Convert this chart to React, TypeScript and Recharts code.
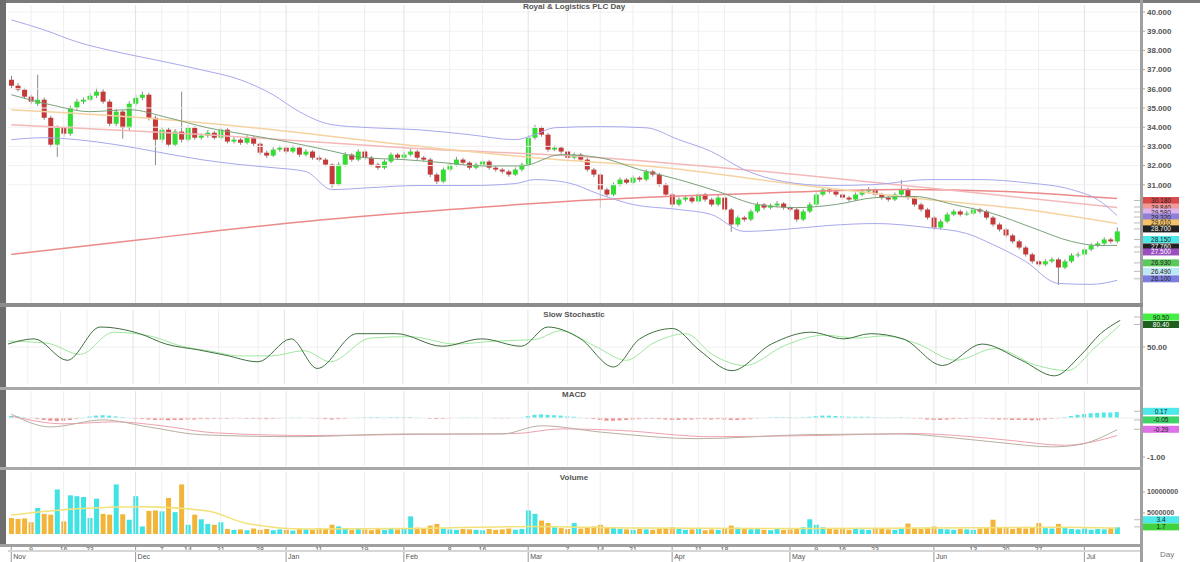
import React from 'react';
import { Bar, Cell, ComposedChart, Line, ReferenceLine, XAxis, YAxis } from 'recharts';

const FONT = '"Liberation Sans", "DejaVu Sans", sans-serif';
const PAD_SLOTS = 3;

// daily candles: [open, high, low, close]
const candles = [
  [36.47, 36.68, 36.02, 36.16], [36.16, 36.3, 35.85, 35.95], [35.95, 36.05, 35.48, 35.59], [35.59, 35.7, 35.2, 35.33], [35.22, 36.73, 35.1, 35.43],
  [35.43, 35.55, 34.38, 34.49], [34.49, 34.6, 32.95, 33.09], [33.09, 34.1, 32.45, 33.97], [33.97, 34.05, 33.5, 33.66], [33.66, 35.12, 33.55, 35.01],
  [35.01, 35.48, 34.9, 35.33], [35.33, 35.55, 35.2, 35.43], [35.43, 35.78, 35.35, 35.64], [35.64, 36.05, 35.52, 35.85], [35.85, 35.98, 35.22, 35.33],
  [35.33, 35.45, 34.05, 34.18], [34.18, 34.95, 34.05, 34.81], [34.81, 34.9, 33.4, 33.97], [33.97, 35.35, 33.85, 35.22], [35.22, 35.68, 35.1, 35.53],
  [35.53, 35.85, 35.4, 35.69], [35.69, 35.8, 34.35, 34.49], [34.49, 34.6, 32.0, 33.35], [33.35, 34.0, 33.2, 33.87], [33.87, 33.98, 32.95, 33.09],
  [33.09, 33.9, 33.0, 33.77], [33.77, 35.85, 33.2, 33.35], [33.35, 34.08, 33.25, 33.97], [33.97, 34.05, 33.35, 33.45], [33.45, 33.68, 33.35, 33.56],
  [33.56, 33.85, 33.45, 33.71], [33.71, 33.8, 33.35, 33.45], [33.45, 33.98, 33.38, 33.87], [33.87, 33.95, 33.15, 33.25], [33.25, 33.48, 33.15, 33.35],
  [33.35, 33.45, 33.08, 33.19], [33.19, 33.58, 33.1, 33.45], [33.45, 33.55, 33.02, 33.14], [33.14, 33.22, 32.55, 32.67], [32.67, 32.78, 32.4, 32.52],
  [32.52, 32.95, 32.45, 32.83], [32.83, 33.05, 32.72, 32.93], [32.93, 33.02, 32.62, 32.73], [32.73, 33.05, 32.65, 32.93], [32.93, 33.0, 32.45, 32.57],
  [32.57, 32.85, 32.48, 32.73], [32.73, 32.8, 32.3, 32.41], [32.41, 32.52, 32.2, 32.31], [32.31, 32.4, 31.95, 32.05], [32.05, 32.12, 30.85, 31.01],
  [31.01, 32.18, 30.95, 32.05], [32.05, 32.7, 31.95, 32.57], [32.57, 32.65, 32.2, 32.31], [32.31, 32.85, 32.22, 32.73], [32.73, 32.82, 32.3, 32.41],
  [32.41, 32.5, 31.95, 32.05], [32.05, 32.15, 31.78, 31.89], [31.89, 32.32, 31.8, 32.21], [32.21, 32.68, 32.12, 32.57], [32.57, 32.66, 32.3, 32.41],
  [32.41, 32.7, 32.33, 32.57], [32.57, 32.88, 32.48, 32.73], [32.73, 32.82, 32.3, 32.41], [32.41, 32.5, 32.2, 32.31], [32.31, 32.4, 31.4, 31.53],
  [31.53, 31.62, 31.02, 31.17], [31.17, 31.9, 31.08, 31.79], [31.79, 32.15, 31.7, 32.05], [32.05, 32.45, 31.95, 32.31], [32.31, 32.4, 32.05, 32.15],
  [32.15, 32.22, 31.78, 31.89], [31.89, 32.15, 31.8, 32.05], [32.05, 32.32, 31.95, 32.21], [32.21, 32.3, 31.78, 31.89], [31.89, 31.98, 31.68, 31.79],
  [31.79, 31.88, 31.58, 31.69], [31.69, 31.78, 31.42, 31.53], [31.53, 31.9, 31.45, 31.79], [31.79, 32.15, 31.7, 32.05], [32.05, 33.6, 31.95, 33.45],
  [33.45, 34.12, 33.35, 33.97], [33.97, 34.05, 33.5, 33.61], [33.61, 33.7, 32.72, 32.83], [32.83, 33.05, 32.75, 32.93], [32.93, 33.02, 32.62, 32.73],
  [32.73, 32.82, 32.3, 32.41], [32.41, 32.68, 32.32, 32.57], [32.57, 32.65, 32.2, 32.31], [32.31, 32.4, 31.68, 31.79], [31.79, 31.88, 31.4, 31.53],
  [31.53, 31.6, 29.8, 30.75], [30.75, 30.85, 30.38, 30.49], [30.49, 31.12, 30.4, 31.01], [31.01, 31.38, 30.92, 31.27], [31.27, 31.35, 31.0, 31.11],
  [31.11, 31.48, 31.02, 31.37], [31.37, 31.45, 31.15, 31.27], [31.27, 31.8, 31.18, 31.69], [31.69, 31.78, 31.42, 31.53], [31.53, 31.62, 30.9, 31.01],
  [31.01, 31.1, 30.38, 30.49], [30.49, 30.58, 29.85, 29.97], [29.97, 30.35, 29.88, 30.23], [30.23, 30.45, 30.12, 30.33], [30.33, 30.42, 30.02, 30.13],
  [30.13, 30.6, 30.05, 30.49], [30.49, 30.58, 30.12, 30.23], [30.23, 30.32, 29.86, 29.97], [29.97, 30.45, 29.88, 30.33], [30.33, 30.42, 29.6, 29.71],
  [29.71, 29.8, 28.55, 28.93], [28.93, 29.4, 28.82, 29.29], [29.29, 29.38, 29.08, 29.19], [29.19, 29.72, 29.1, 29.61], [29.61, 30.1, 29.52, 29.97],
  [29.97, 30.05, 29.7, 29.81], [29.81, 30.02, 29.72, 29.92], [29.92, 30.15, 29.82, 30.02], [30.02, 30.1, 29.7, 29.81], [29.81, 29.9, 29.6, 29.71],
  [29.71, 29.8, 29.08, 29.19], [29.19, 29.72, 29.1, 29.61], [29.61, 30.08, 29.52, 29.97], [29.97, 30.6, 29.88, 30.49], [30.49, 30.88, 30.4, 30.75],
  [30.75, 30.85, 30.55, 30.65], [30.65, 30.72, 30.38, 30.49], [30.49, 30.58, 30.22, 30.33], [30.33, 30.42, 30.12, 30.23], [30.23, 30.6, 30.15, 30.49],
  [30.49, 30.78, 30.4, 30.65], [30.65, 30.88, 30.55, 30.75], [30.75, 30.82, 30.38, 30.49], [30.49, 30.58, 30.22, 30.33], [30.33, 30.42, 30.12, 30.23],
  [30.23, 30.6, 30.15, 30.49], [30.49, 31.25, 30.4, 30.75], [30.75, 30.85, 30.22, 30.33], [30.33, 30.42, 29.86, 29.97], [29.97, 30.06, 29.6, 29.71],
  [29.71, 29.8, 29.18, 29.29], [29.29, 29.38, 28.65, 28.77], [28.77, 29.2, 28.68, 29.09], [29.09, 29.56, 29.0, 29.45], [29.45, 29.72, 29.36, 29.61],
  [29.61, 29.7, 29.35, 29.45], [29.45, 29.62, 29.38, 29.5], [29.5, 29.82, 29.42, 29.71], [29.71, 29.8, 29.5, 29.61], [29.61, 29.7, 29.18, 29.29],
  [29.29, 29.38, 28.82, 28.93], [28.93, 29.02, 28.56, 28.67], [28.67, 28.76, 28.25, 28.36], [28.36, 28.45, 27.94, 28.05], [28.05, 28.14, 27.62, 27.73],
  [27.73, 27.82, 27.26, 27.37], [27.37, 27.46, 26.9, 27.01], [27.01, 27.1, 26.74, 26.85], [26.85, 27.12, 26.76, 27.01], [27.01, 27.22, 26.92, 27.11],
  [27.11, 27.2, 25.78, 26.69], [26.69, 27.12, 26.6, 27.01], [27.01, 27.43, 26.92, 27.32], [27.32, 27.48, 27.22, 27.37], [27.37, 27.74, 27.28, 27.63],
  [27.63, 27.95, 27.54, 27.84], [27.84, 28.05, 27.75, 27.94], [27.94, 28.26, 27.85, 28.15], [28.15, 28.24, 27.94, 28.05], [28.05, 28.78, 27.96, 28.57],
];

// volume in millions of shares
const volumes = [
  3.8, 3.6, 3.7, 2.8, 6.2, 4.8, 4.6, 10.6, 3.0, 9.2,
  9.0, 8.8, 3.8, 8.4, 4.8, 4.6, 11.8, 4.7, 3.4, 9.0,
  1.8, 5.5, 5.6, 5.4, 8.6, 5.2, 11.8, 2.2, 4.6, 3.5,
  2.4, 2.2, 2.8, 1.2, 1.0, 1.1, 0.9, 1.3, 1.0, 1.2,
  0.9, 1.1, 1.0, 0.8, 1.2, 1.1, 1.0, 1.4, 1.2, 2.2,
  1.8, 1.2, 1.0, 1.3, 1.1, 0.9, 1.2, 1.0, 1.4, 1.1,
  1.2, 4.2, 1.5, 1.2, 2.0, 2.4, 1.3, 1.1, 1.0, 1.2,
  1.1, 1.0, 0.9, 1.2, 1.0, 1.1, 1.3, 1.0, 1.2, 5.6,
  4.8, 3.2, 2.6, 1.6, 1.4, 1.2, 2.6, 1.3, 1.5, 1.8,
  2.2, 1.6, 1.4, 1.2, 1.1, 1.0, 1.2, 1.1, 1.0, 1.3,
  1.4, 1.6, 1.2, 1.0, 1.1, 1.2, 0.9, 1.1, 1.0, 1.3,
  2.0, 1.5, 1.2, 1.1, 1.3, 1.0, 0.9, 1.2, 1.0, 1.1,
  1.4, 1.6, 3.5, 2.2, 1.6, 1.2, 1.1, 1.3, 1.0, 1.2,
  1.1, 1.0, 1.2, 1.4, 1.1, 1.0, 1.3, 2.5, 1.4, 1.2,
  1.5, 1.8, 1.2, 1.1, 1.0, 1.2, 1.1, 1.0, 1.3, 1.4,
  3.4, 1.6, 1.4, 1.2, 1.5, 1.3, 1.6, 2.6, 1.4, 1.3,
  2.4, 1.4, 1.2, 1.1, 1.3, 1.0, 1.2, 1.1, 1.4, 1.6,
];

const macdHist = [
  0.05, 0.04, 0.02, -0.01, -0.03, -0.05, -0.07, -0.08, -0.07, -0.05,
  -0.02, 0.01, 0.04, 0.06, 0.07, 0.06, 0.04, 0.02, 0.0, -0.02,
  -0.03, -0.04, -0.05, -0.05, -0.06, -0.05, -0.05, -0.04, -0.04, -0.03,
  -0.03, -0.02, -0.02, -0.02, -0.01, -0.01, -0.02, -0.02, -0.03, -0.03,
  -0.02, -0.01, 0.0, 0.01, 0.01, 0.0, -0.01, -0.02, -0.03, -0.04,
  -0.03, -0.02, 0.0, 0.01, 0.02, 0.02, 0.02, 0.01, 0.02, 0.02,
  0.02, 0.02, 0.01, 0.0, -0.02, -0.03, -0.02, -0.01, 0.0, 0.01,
  0.01, 0.01, 0.0, 0.0, -0.01, -0.01, -0.01, 0.0, 0.01, 0.05,
  0.08, 0.09, 0.08, 0.07, 0.06, 0.04, 0.03, 0.01, -0.01, -0.03,
  -0.05, -0.07, -0.07, -0.06, -0.05, -0.04, -0.03, -0.02, -0.02, -0.03,
  -0.04, -0.05, -0.05, -0.04, -0.04, -0.03, -0.03, -0.04, -0.03, -0.04,
  -0.05, -0.05, -0.04, -0.03, -0.01, 0.0, 0.01, 0.02, 0.02, 0.02,
  0.01, 0.02, 0.03, 0.05, 0.06, 0.06, 0.05, 0.04, 0.03, 0.03,
  0.03, 0.03, 0.02, 0.01, 0.01, 0.01, 0.02, 0.01, -0.01, -0.02,
  -0.04, -0.05, -0.05, -0.04, -0.03, -0.02, -0.02, -0.01, -0.01, -0.02,
  -0.03, -0.04, -0.04, -0.05, -0.05, -0.05, -0.06, -0.06, -0.04, -0.02,
  -0.01, 0.02, 0.05, 0.08, 0.1, 0.12, 0.13, 0.14, 0.14, 0.15,
];

// overlay studies, read as [day index, value]
const bbUpper = [
  [0, 39.59], [5, 39.07], [10, 38.45], [16, 37.93], [22, 37.51], [29, 36.99], [35, 36.47], [40, 35.69], [44, 34.81], [49, 34.13],
  [55, 33.97], [62, 33.87], [70, 33.61], [77, 33.35], [80, 33.61], [83, 33.97], [90, 34.03], [97, 33.97], [102, 33.35], [107, 32.73],
  [112, 31.79], [118, 31.17], [125, 30.96], [132, 31.01], [140, 31.27], [148, 31.27], [155, 31.11], [162, 30.75], [166, 30.23], [169, 29.4],
];
const bbLower = [
  [0, 33.35], [5, 33.45], [10, 33.35], [16, 33.09], [22, 32.73], [29, 32.31], [35, 32.05], [40, 31.89], [45, 31.69], [49, 30.75],
  [55, 30.85], [62, 30.96], [70, 30.96], [77, 31.06], [80, 31.27], [85, 31.11], [90, 30.49], [95, 29.97], [102, 29.71], [107, 29.45],
  [112, 28.57], [118, 28.67], [125, 28.88], [132, 28.98], [140, 28.77], [146, 28.46], [150, 27.89], [155, 27.01], [160, 25.86], [165, 25.81], [169, 26.02],
];
const ma20 = [
  [0, 35.69], [6, 35.17], [12, 34.81], [18, 34.91], [24, 34.49], [30, 33.97], [36, 33.61], [42, 33.25], [48, 32.83], [54, 32.41],
  [60, 32.31], [66, 32.15], [72, 31.98], [78, 31.98], [84, 32.57], [90, 32.41], [96, 31.79], [102, 31.27], [108, 30.65], [114, 29.97],
  [120, 29.81], [126, 29.97], [132, 30.33], [138, 30.39], [144, 29.97], [150, 29.5], [156, 28.77], [162, 28.05], [166, 27.84], [169, 27.84],
];
const ma50 = [
  [0, 34.91], [20, 34.49], [40, 33.87], [60, 33.09], [80, 32.41], [100, 31.89], [120, 31.01], [140, 30.23], [155, 29.71], [169, 28.98],
];
const ma100 = [[0, 34.13], [30, 33.61], [60, 32.93], [90, 32.41], [120, 31.53], [150, 30.49], [169, 29.81]];
const ma200 = [[0, 27.37], [20, 28.15], [45, 29.09], [67, 29.71], [90, 30.23], [113, 30.54], [136, 30.75], [152, 30.65], [169, 30.28]];

const stochK = [
  [0, 54], [4, 61], [9, 32], [14, 77], [20, 68], [24, 54], [29, 46], [33, 39], [38, 30], [43, 61], [47, 21], [53, 68],
  [59, 68], [66, 51], [72, 61], [78, 51], [82, 77], [87, 61], [92, 23], [96, 61], [101, 75], [105, 46], [110, 18],
  [116, 54], [122, 70], [127, 61], [131, 68], [136, 61], [142, 25], [148, 54], [154, 32], [159, 11], [163, 39], [166, 68], [169, 86],
];
const stochD = [
  [0, 58], [6, 55], [11, 40], [16, 70], [22, 64], [26, 52], [31, 44], [35, 38], [40, 38], [45, 45], [49, 30], [55, 62],
  [61, 64], [68, 54], [74, 58], [80, 60], [84, 72], [89, 52], [94, 32], [98, 55], [103, 68], [107, 40], [112, 25],
  [118, 52], [124, 66], [129, 62], [133, 65], [138, 55], [144, 32], [150, 48], [156, 26], [161, 18], [165, 48], [169, 80],
];
const macdLine = [
  [0, 0.1], [6, -0.23], [14, -0.05], [21, -0.23], [29, -0.43], [44, -0.48], [60, -0.41], [75, -0.41], [81, -0.2], [90, -0.36],
  [105, -0.53], [121, -0.43], [136, -0.41], [144, -0.51], [151, -0.63], [159, -0.74], [163, -0.69], [169, -0.3],
];
const macdSignal = [
  [0, 0.05], [8, -0.15], [16, -0.1], [23, -0.2], [31, -0.38], [46, -0.45], [62, -0.42], [77, -0.4], [84, -0.28], [93, -0.32],
  [107, -0.48], [123, -0.45], [138, -0.4], [146, -0.47], [153, -0.58], [161, -0.7], [165, -0.62], [169, -0.45],
];
const volAvg = [[0, 4.5], [10, 6.0], [20, 6.5], [30, 5.5], [36, 2.5], [45, 1.2], [60, 1.3], [80, 1.8], [95, 1.4], [120, 1.3], [140, 1.4], [160, 1.6], [169, 1.4]];

// axis labels
const priceTicks = [31, 32, 33, 34, 35, 36, 37, 38, 39, 40];
const monthTicks = [0, 19, 42, 60, 79, 101, 119, 141, 164];
const monthLabels = ['Nov', 'Dec', 'Jan', 'Feb', 'Mar', 'Apr', 'May', 'Jun', 'Jul'];
const weekTicks = [3, 8, 12, 23, 27, 32, 38, 47, 54, 67, 72, 85, 90, 95, 105, 109, 123, 127, 132, 147, 152, 157];
const weekLabels = ['9', '16', '23', '7', '14', '21', '28', '11', '19', '8', '16', '7', '14', '21', '11', '18', '9', '16', '23', '13', '20', '27'];

// last-value markers on the right scale
const mainBadges = [30.18, 29.84, 29.58, 29.32, 29.01, 28.7, 28.15, 27.76, 27.5, 26.93, 26.49, 26.1];
const mainBadgeColors = ['#d94a4a', '#f29a9a', '#dcb4ea', '#8f7fd6', '#f5c46a', '#222222', '#4de8e8', '#222222', '#9a50c0', '#5cc85c', '#bfe8f5', '#7d7de0'];
const stochBadges = [90.5, 80.4];
const stochBadgeColors = ['#44ee44', '#1f5f1f'];
const macdBadges = [0.17, -0.05, -0.29];
const macdBadgeColors = ['#4de8e8', '#3fd46a', '#e070e8'];
const volBadges = [3.4, 1.7];
const volBadgeColors = ['#4de8e8', '#3fd43f'];

const rows: any[] = [];
for (let i = 0; i < candles.length + PAD_SLOTS; i++) {
  const k = candles[i];
  rows.push(k ? { i, o: k[0], h: k[1], l: k[2], c: k[3], vol: volumes[i], hist: macdHist[i] } : { i });
}
const attach = (pts: number[][], key: string) => pts.forEach(([i, v]) => { rows[i][key] = v; });
attach(bbUpper, 'bbU');
attach(bbLower, 'bbL');
attach(ma20, 'ma20');
attach(ma50, 'ma50');
attach(ma100, 'ma100');
attach(ma200, 'ma200');
attach(stochK, 'k');
attach(stochD, 'd');
attach(macdLine, 'macd');
attach(macdSignal, 'sig');
attach(volAvg, 'vavg');

const isDark = (c: string) => c === '#222222' || c === '#1f5f1f' || c === '#9a50c0';

const Badge = (props: any) => {
  const { viewBox, color, value, digits } = props;
  if (!viewBox) return null;
  const x = viewBox.x + viewBox.width;
  const y = viewBox.y;
  return (
    <g>
      <line x1={x - 6} x2={x + 3} y1={y} y2={y} stroke="#bbb" />
      <rect x={x + 3} y={y - 3.5} width={36} height={7} fill={color} />
      <text x={x + 21} y={y + 2.5} textAnchor="middle" fontSize={6.5} fontFamily={FONT} fill={isDark(color) ? '#fff' : '#222'}>
        {value.toFixed(digits)}
      </text>
    </g>
  );
};

const Candle = (props: any) => {
  const { x, y, width, height, payload } = props;
  if (!payload || payload.o == null) return null;
  const { o, h, l, c } = payload;
  const top = Math.min(y, y + height);
  const k = h > l ? Math.abs(height) / (h - l) : 0;
  const yO = top + (h - o) * k;
  const yC = top + (h - c) * k;
  const up = c >= o;
  const cx = x + width / 2;
  return (
    <g>
      <line x1={cx} x2={cx} y1={top} y2={top + Math.abs(height)} stroke="#8a8a8a" strokeWidth={1} />
      <rect x={x} y={Math.min(yO, yC)} width={width} height={Math.max(1, Math.abs(yC - yO))} fill={up ? '#33dd33' : '#c43a3a'} />
    </g>
  );
};

const XTick = (props: any) => {
  const { x, y, payload } = props;
  const m = monthTicks.indexOf(payload.value);
  if (m >= 0) {
    return (
      <g>
        <line x1={x} x2={x} y1={y + 10} y2={y + 28} stroke="#999" />
        <text x={x + 2} y={y + 25} fontSize={7} fontFamily={FONT} fill="#555">{monthLabels[m]}</text>
      </g>
    );
  }
  const w = weekTicks.indexOf(payload.value);
  return (
    <g>
      <rect x={x - 6} y={y + 11} width={12} height={8} fill="#fff" />
      <text x={x} y={y + 18} textAnchor="middle" fontSize={7} fontFamily={FONT} fill="#555">{weekLabels[w]}</text>
    </g>
  );
};

const gridLines = () => [
  ...weekTicks.map((t) => <ReferenceLine key={'w' + t} x={t} stroke="#eeeeee" />),
  ...monthTicks.slice(1).map((t) => <ReferenceLine key={'m' + t} x={t} stroke="#e2e2e2" />),
];

const line = (key: string, color: string, width = 1) => (
  <Line key={key} dataKey={key} stroke={color} strokeWidth={width} dot={false} connectNulls type="monotone" isAnimationActive={false} />
);

const badges = (vals: number[], colors: string[], digits: number) =>
  vals.map((v, j) => (
    <ReferenceLine key={'b' + j} y={v} stroke="none" label={(p: any) => <Badge {...p} color={colors[j]} value={v} digits={digits} />} />
  ));

const axisTick = { fontSize: 8, fill: '#555', fontFamily: FONT, fontWeight: 700 };
const volTick = { fontSize: 7, fill: '#555', fontFamily: FONT, fontWeight: 700 };
const M = { right: 0, left: 8 };

const Title = ({ top, text }: { top: number; text: string }) => (
  <div style={{ position: 'absolute', top, left: 8, width: 1132, textAlign: 'center', fontSize: 8, fontWeight: 700, color: '#555', fontFamily: FONT }}>
    {text}
  </div>
);

const Rule = ({ left, top, width, height, color }: any) => (
  <div style={{ position: 'absolute', left, top, width, height, background: color }} />
);

export default function App() {
  return (
    <div style={{ position: 'absolute', left: 0, top: 0, width: 1200, height: 562, background: '#fff', overflow: 'hidden', fontFamily: FONT }}>
      <div style={{ position: 'absolute', left: 0, top: 0 }}>
        <ComposedChart width={1200} height={306} data={rows} margin={{ ...M, top: 5, bottom: 3 }}>
          <XAxis dataKey="i" hide />
          <YAxis orientation="right" width={60} domain={[24.84, 40.365]} ticks={priceTicks} allowDataOverflow interval={0}
            tickSize={5} tick={axisTick} tickLine={{ stroke: '#aaa' }} axisLine={false} tickFormatter={(v: number) => v.toFixed(3)} />
          {priceTicks.map((v) => <ReferenceLine key={'h' + v} y={v} stroke="#f0f0f0" />)}
          {gridLines()}
          {line('ma200', '#ec8a8a', 1.5)}
          {line('ma100', '#f4b8b8', 1.5)}
          {line('ma50', '#f5d3a0', 1.5)}
          {line('bbU', '#a8a8ee')}
          {line('bbL', '#a8a8ee')}
          {line('ma20', '#7aa27a')}
          <Bar dataKey={(d: any) => (d.o == null ? undefined : [d.l, d.h])} barSize={5} isAnimationActive={false}
            shape={(p: any) => <Candle {...p} />} />
          {badges(mainBadges, mainBadgeColors, 3)}
        </ComposedChart>
      </div>

      <div style={{ position: 'absolute', left: 0, top: 307 }}>
        <ComposedChart width={1200} height={80} data={rows} margin={{ ...M, top: 3, bottom: 3 }}>
          <XAxis dataKey="i" hide />
          <YAxis orientation="right" width={60} domain={[0, 100]} ticks={[50]} allowDataOverflow interval={0}
            tickSize={5} tick={axisTick} tickLine={{ stroke: '#aaa' }} axisLine={false} tickFormatter={(v: number) => v.toFixed(2)} />
          <ReferenceLine y={50} stroke="#f0f0f0" />
          {gridLines()}
          {line('d', '#9fe89f')}
          {line('k', '#3f6f3f')}
          {badges(stochBadges, stochBadgeColors, 2)}
        </ComposedChart>
      </div>

      <div style={{ position: 'absolute', left: 0, top: 390 }}>
        <ComposedChart width={1200} height={77} data={rows} margin={{ ...M, top: 1, bottom: 1 }}>
          <XAxis dataKey="i" hide />
          <YAxis orientation="right" width={60} domain={[-1.23, 0.69]} ticks={[-1]} allowDataOverflow interval={0}
            tickSize={5} tick={axisTick} tickLine={{ stroke: '#aaa' }} axisLine={false} tickFormatter={(v: number) => v.toFixed(2)} />
          <ReferenceLine y={0} stroke="#eeeeee" />
          {gridLines()}
          <Bar dataKey="hist" barSize={4} isAnimationActive={false}>
            {rows.map((r) => <Cell key={r.i} fill={(r.hist ?? 0) >= 0 ? '#55e6e6' : '#f08a8a'} />)}
          </Bar>
          {line('sig', '#f0a0b0')}
          {line('macd', '#b8b0a0')}
          {badges(macdBadges, macdBadgeColors, 2)}
        </ComposedChart>
      </div>

      <div style={{ position: 'absolute', left: 0, top: 470 }}>
        <ComposedChart width={1200} height={92} data={rows} margin={{ ...M, top: 2, bottom: 0 }}>
          <XAxis dataKey="i" height={28} axisLine={false} tickLine={false} tickSize={0} tickMargin={0} interval={0}
            ticks={[...monthTicks, ...weekTicks].sort((a, b) => a - b)} tick={(p: any) => <XTick {...p} />} />
          <YAxis orientation="right" width={60} domain={[0, 14.76]} ticks={[5, 10]} allowDataOverflow interval={0}
            tickSize={5} tick={volTick} tickLine={{ stroke: '#aaa' }} axisLine={false} tickFormatter={(v: number) => String(Math.round(v * 1e6))} />
          {gridLines()}
          <Bar dataKey="vol" barSize={5} isAnimationActive={false}>
            {rows.map((r) => <Cell key={r.i} fill={r.c >= r.o ? '#3fe3e3' : '#f2b53a'} />)}
          </Bar>
          {line('vavg', '#f2e27a', 1.5)}
          {badges(volBadges, volBadgeColors, 1)}
        </ComposedChart>
      </div>

      <Title top={2} text="Royal & Logistics PLC  Day" />
      <Title top={310} text="Slow Stochastic" />
      <Title top={390} text="MACD" />
      <Title top={473} text="Volume" />

      <Rule left={0} top={0} width={1200} height={3} color="#7a7a7a" />
      <Rule left={0} top={0} width={6} height={547} color="#6e6e6e" />
      <Rule left={1140} top={0} width={3} height={562} color="#a0a0a0" />
      <Rule left={0} top={303} width={1143} height={4} color="#8c8c8c" />
      <Rule left={0} top={387} width={1143} height={3} color="#a8a8a8" />
      <Rule left={0} top={467} width={1143} height={3} color="#a8a8a8" />
      <Rule left={0} top={544} width={1143} height={3} color="#a0a0a0" />
      <Rule left={8} top={550} width={1132} height={2} color="#d6d6d6" />
      <div style={{ position: 'absolute', left: 1160, top: 550, fontSize: 8, color: '#777' }}>Day</div>
    </div>
  );
}
